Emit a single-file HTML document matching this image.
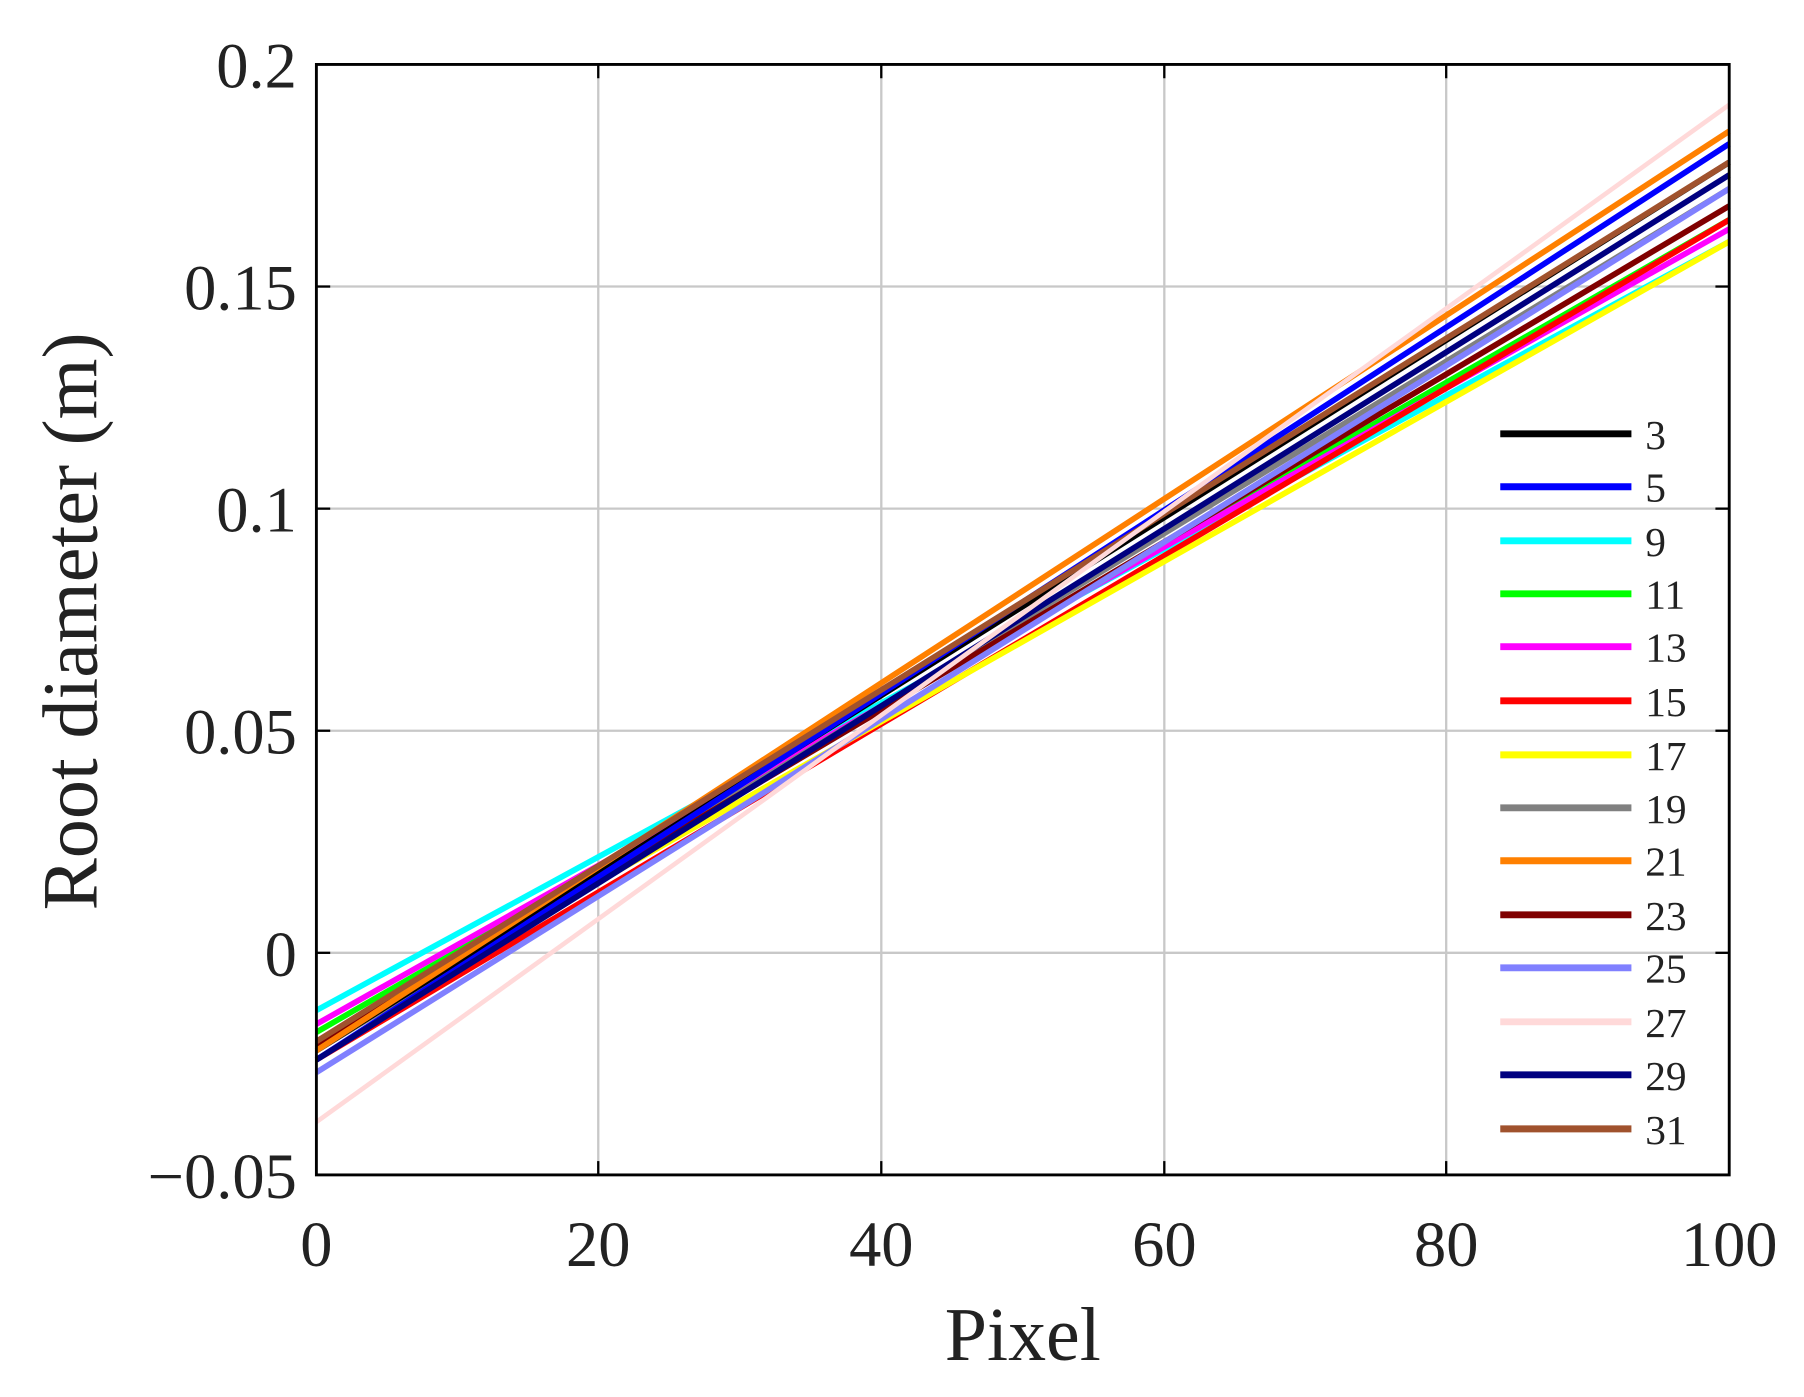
<!DOCTYPE html>
<html><head><meta charset="utf-8"><style>html,body{margin:0;padding:0;background:#fff}svg{display:block}</style></head>
<body>
<svg width="1804" height="1397" viewBox="0 0 1568 1214" preserveAspectRatio="none" xmlns="http://www.w3.org/2000/svg" font-family="Liberation Serif, serif">
<rect width="1568" height="1214" fill="#fff"/>
<g stroke="#c8c8c8" stroke-width="2">
<line x1="520" y1="56" x2="520" y2="1021"/><line x1="766" y1="56" x2="766" y2="1021"/><line x1="1012" y1="56" x2="1012" y2="1021"/><line x1="1257" y1="56" x2="1257" y2="1021"/>
<line x1="275" y1="249" x2="1503" y2="249"/><line x1="275" y1="442" x2="1503" y2="442"/><line x1="275" y1="635" x2="1503" y2="635"/><line x1="275" y1="828" x2="1503" y2="828"/>
</g>
<g stroke-width="5" fill="none">
<line x1="275" y1="878" x2="1503" y2="210" stroke="#00ffff"/>
<line x1="275" y1="897" x2="1503" y2="191" stroke="#00ff00"/>
<line x1="275" y1="890" x2="1503" y2="199" stroke="#ff00ff"/>
<line x1="275" y1="921" x2="1503" y2="191" stroke="#ff0000"/>
<line x1="275" y1="905" x2="1503" y2="210" stroke="#ffff00"/>
<line x1="275" y1="913" x2="1503" y2="164" stroke="#808080"/>
<line x1="275" y1="909" x2="1503" y2="179" stroke="#800000"/>
<line x1="275" y1="932" x2="1503" y2="164" stroke="#8080ff"/>
<line x1="275" y1="913" x2="1503" y2="141" stroke="#000000"/>
<line x1="275" y1="921" x2="1503" y2="125" stroke="#0000ff"/>
<line x1="275" y1="921" x2="1503" y2="152" stroke="#000080"/>
<line x1="275" y1="913" x2="1503" y2="114" stroke="#ff8000"/>
<line x1="275" y1="905" x2="1503" y2="141" stroke="#a0522d"/>
<line x1="275" y1="975" x2="1503" y2="91" stroke="#ffd9d9" stroke-width="4"/>
</g>
<rect x="275" y="56" width="1228" height="965" fill="none" stroke="#000" stroke-width="2.5"/>
<g stroke="#000" stroke-width="2">
<line x1="520" y1="1021" x2="520" y2="1009"/><line x1="766" y1="1021" x2="766" y2="1009"/><line x1="1012" y1="1021" x2="1012" y2="1009"/><line x1="1257" y1="1021" x2="1257" y2="1009"/>
<line x1="520" y1="56" x2="520" y2="68"/><line x1="766" y1="56" x2="766" y2="68"/><line x1="1012" y1="56" x2="1012" y2="68"/><line x1="1257" y1="56" x2="1257" y2="68"/>
<line x1="275" y1="249" x2="287" y2="249"/><line x1="275" y1="442" x2="287" y2="442"/><line x1="275" y1="635" x2="287" y2="635"/><line x1="275" y1="828" x2="287" y2="828"/>
<line x1="1503" y1="249" x2="1491" y2="249"/><line x1="1503" y1="442" x2="1491" y2="442"/><line x1="1503" y1="635" x2="1491" y2="635"/><line x1="1503" y1="828" x2="1491" y2="828"/>
</g>
<g font-size="56" fill="#222" text-anchor="end">
<text x="258" y="76">0.2</text><text x="258" y="269">0.15</text><text x="258" y="462">0.1</text><text x="258" y="655">0.05</text><text x="258" y="848">0</text><text x="258" y="1041">−0.05</text>
</g>
<g font-size="56" fill="#222" text-anchor="middle">
<text x="275" y="1100">0</text><text x="520" y="1100">20</text><text x="766" y="1100">40</text><text x="1012" y="1100">60</text><text x="1257" y="1100">80</text><text x="1503" y="1100">100</text>
</g>
<text x="889" y="1182" font-size="66" text-anchor="middle" fill="#222">Pixel</text>
<text transform="translate(84,540) rotate(-90)" font-size="68" text-anchor="middle" fill="#222">Root diameter (m)</text>
<g stroke-width="6">
<line x1="1304" y1="377" x2="1418" y2="377" stroke="#000"/>
<line x1="1304" y1="423" x2="1418" y2="423" stroke="#0000ff"/>
<line x1="1304" y1="470" x2="1418" y2="470" stroke="#00ffff"/>
<line x1="1304" y1="516" x2="1418" y2="516" stroke="#00ff00"/>
<line x1="1304" y1="562" x2="1418" y2="562" stroke="#ff00ff"/>
<line x1="1304" y1="609" x2="1418" y2="609" stroke="#ff0000"/>
<line x1="1304" y1="656" x2="1418" y2="656" stroke="#ffff00"/>
<line x1="1304" y1="702" x2="1418" y2="702" stroke="#808080"/>
<line x1="1304" y1="748" x2="1418" y2="748" stroke="#ff8000"/>
<line x1="1304" y1="795" x2="1418" y2="795" stroke="#800000"/>
<line x1="1304" y1="841" x2="1418" y2="841" stroke="#8080ff"/>
<line x1="1304" y1="888" x2="1418" y2="888" stroke="#ffd9d9"/>
<line x1="1304" y1="934" x2="1418" y2="934" stroke="#000080"/>
<line x1="1304" y1="981" x2="1418" y2="981" stroke="#a0522d"/>
</g>
<g font-size="36" fill="#222">
<text x="1430" y="390">3</text><text x="1430" y="436">5</text><text x="1430" y="483">9</text><text x="1430" y="529">11</text><text x="1430" y="575">13</text><text x="1430" y="622">15</text><text x="1430" y="669">17</text><text x="1430" y="715">19</text><text x="1430" y="761">21</text><text x="1430" y="808">23</text><text x="1430" y="854">25</text><text x="1430" y="901">27</text><text x="1430" y="947">29</text><text x="1430" y="994">31</text>
</g>
</svg>
</body></html>
